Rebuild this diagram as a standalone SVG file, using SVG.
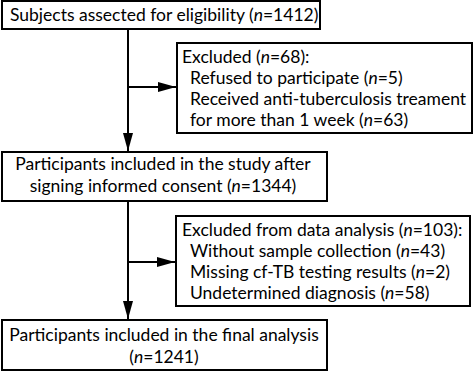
<svg xmlns="http://www.w3.org/2000/svg" width="474" height="372" viewBox="0 0 474 372">
<style>
.box{fill:#fff;stroke:#000;stroke-width:2}
text{font-family:Lato,"Noto Sans",sans-serif;font-size:17.5px;fill:#000}
.c{text-anchor:middle}
.ln{stroke:#000;stroke-width:2;fill:none}
</style>
<defs>
<marker id="ah" viewBox="0 0 18 10" refX="18" refY="5" markerWidth="18" markerHeight="10" markerUnits="userSpaceOnUse" orient="auto">
<path d="M0,0 L18,5 L0,10 Z" fill="#000"/>
</marker>
</defs>
<g id="connectors">
<line class="ln" x1="128" y1="30" x2="128" y2="151" marker-end="url(#ah)"/>
<line class="ln" x1="128" y1="87" x2="176" y2="87" marker-end="url(#ah)"/>
<line class="ln" x1="128" y1="201" x2="128" y2="319" marker-end="url(#ah)"/>
<line class="ln" x1="128" y1="262" x2="175" y2="262" marker-end="url(#ah)"/>
</g>
<g id="n1">
<rect class="box" x="2" y="1" width="318" height="28"/>
<text x="10" y="21">Subjects assected for eligibility (<tspan font-style="italic">n</tspan>=1412)</text>
</g>
<g id="n2">
<rect class="box" x="177" y="43" width="295" height="90"/>
<text x="182" y="63">Excluded (<tspan font-style="italic">n</tspan>=68):</text>
<text x="190" y="84">Refused to participate (<tspan font-style="italic">n</tspan>=5)</text>
<text x="190" y="105">Received anti-tuberculosis treament</text>
<text x="190" y="126">for more than 1 week (<tspan font-style="italic">n</tspan>=63)</text>
</g>
<g id="n3">
<rect class="box" x="2" y="152" width="325" height="49"/>
<text class="c" x="163" y="170">Participants included in the study after</text>
<text class="c" x="163" y="192">signing informed consent (<tspan font-style="italic">n</tspan>=1344)</text>
</g>
<g id="n4">
<rect class="box" x="176" y="216" width="294" height="90"/>
<text x="182" y="236">Excluded from data analysis (<tspan font-style="italic">n</tspan>=103):</text>
<text x="190" y="257">Without sample collection (<tspan font-style="italic">n</tspan>=43)</text>
<text x="190" y="278">Missing cf-TB testing results (<tspan font-style="italic">n</tspan>=2)</text>
<text x="190" y="299">Undetermined diagnosis (<tspan font-style="italic">n</tspan>=58)</text>
</g>
<g id="n5">
<rect class="box" x="2" y="320" width="325" height="50"/>
<text class="c" x="164" y="341">Participants included in the final analysis</text>
<text class="c" x="164" y="363">(<tspan font-style="italic">n</tspan>=1241)</text>
</g>
</svg>
